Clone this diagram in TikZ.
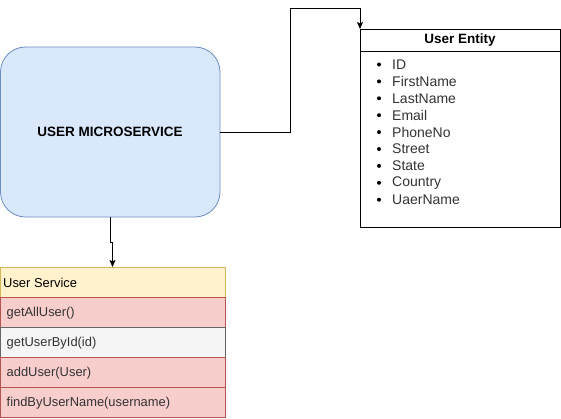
\documentclass[tikz,border=0pt]{standalone}
\usepackage{fontspec}
\setmainfont{Liberation Sans}
\usetikzlibrary{arrows.meta}
\definecolor{msfill}{HTML}{DAE8FC}
\definecolor{msline}{HTML}{6C8EBF}
\definecolor{hdfill}{HTML}{FFF2CC}
\definecolor{hdline}{HTML}{D6B656}
\definecolor{pkfill}{HTML}{F8CECC}
\definecolor{pkline}{HTML}{B85450}
\definecolor{gyfill}{HTML}{F5F5F5}
\definecolor{gyline}{HTML}{666666}
\definecolor{gytext}{HTML}{333333}
\tikzset{
  lbl/.style={font=\fontsize{12.9}{15}\selectfont, inner sep=0pt},
  bld/.style={font=\fontsize{13.5}{16}\selectfont\bfseries, inner sep=0pt},
  itm/.style={font=\fontsize{14}{16}\selectfont, inner sep=0pt, text=gytext},
  conn/.style={draw=black, line width=0.8pt, -{Stealth[length=7pt,width=6pt,inset=1.5pt]}},
  rowbox/.style={line width=0.8pt},
  pink/.style={rowbox, fill=pkfill, draw=pkline},
  grey/.style={rowbox, fill=gyfill, draw=gyline},
}
\begin{document}
\begin{tikzpicture}[x=1pt,y=-1pt]
\useasboundingbox (0,0) rectangle (561,418);
% microservice box
\draw[fill=msfill, draw=msline, line width=0.8pt, rounded corners=25pt] (0.5,47) rectangle (220,217);
\node[bld] (ms) at (110,132) {USER MICROSERVICE};
\coordinate (msR) at (220,132);
\coordinate (msB) at (110,217);
% user entity
\draw[line width=0.8pt, fill=white] (360,29) rectangle (560,227);
\draw[line width=0.8pt] (360,51) -- (560,51);
\node[bld] (ue) at (460,40.5) {User Entity};
\coordinate (ueT) at (360,29);
\foreach \t [count=\i from 0] in {ID,FirstName,LastName,Email,PhoneNo,Street,State,Country,UaerName}{
  \fill (379,{64.5+\i*16.9}) circle (2pt);
  \node[itm, anchor=west] (it\i) at (392,{64.5+\i*16.9}) {\t};
}
% user service
\draw[rowbox, fill=hdfill, draw=hdline] (0.5,267) rectangle (225,297);
\node[lbl, anchor=west] (us) at (3,283.3) {User Service};
\draw[pink] (0.5,297) rectangle (225,327);
\node[lbl, anchor=west, text=gytext] (r1) at (6.5,313.5) {getAllUser()};
\draw[grey] (0.5,327) rectangle (225,357);
\node[lbl, anchor=west, text=gytext] (r2) at (6.5,343.5) {getUserById(id)};
\draw[pink] (0.5,357) rectangle (225,387);
\node[lbl, anchor=west, text=gytext] (r3) at (6.5,373.5) {addUser(User)};
\draw[pink] (0.5,387) rectangle (225,417.5);
\node[lbl, anchor=west, text=gytext] (r4) at (6.5,403.5) {findByUserName(username)};
\coordinate (usT) at (112.5,267);
% connectors
\draw[conn] (msR) -- (290,132) -- (290,8) -- (360,8) -- (ueT);
\draw[conn] (msB) -- (110,242) -- (112.5,242) -- (usT);
\end{tikzpicture}
\end{document}
